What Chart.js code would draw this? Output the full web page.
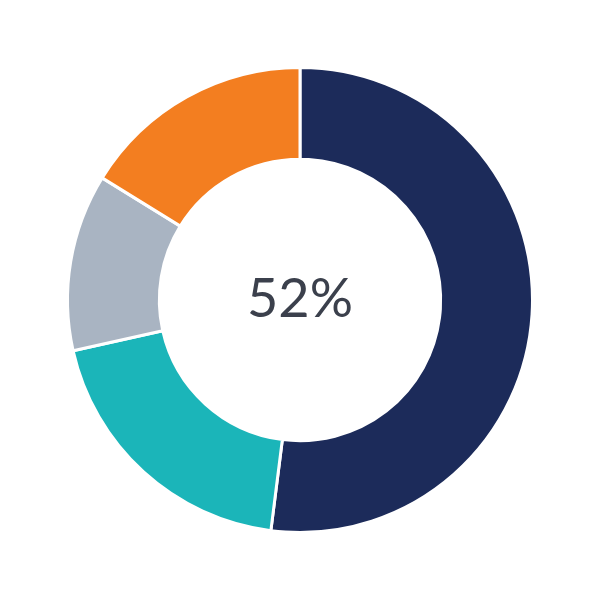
<!DOCTYPE html>
<html>
<head>
<meta charset="utf-8">
<script src="https://cdn.jsdelivr.net/npm/chart.js@4.4.0/dist/chart.umd.min.js"></script>
<style>
  html, body { margin: 0; padding: 0; background: #ffffff; }
  #wrap { width: 600px; height: 600px; position: relative; }
</style>
</head>
<body>
<div id="wrap"><canvas id="chart"></canvas></div>
<script>
  // values, clockwise from 12 o'clock
  const labels = ['Navy', 'Teal', 'Gray', 'Orange'];
  const values = [52, 19.5, 12.3, 16.2];
  const colors = ['#1c2b5a', '#1bb5b9', '#a9b4c2', '#f37e20'];
  const centerLabel = '52%';

  const centerText = {
    id: 'centerText',
    afterDraw(chart) {
      const arc = chart.getDatasetMeta(0).data[0];
      if (!arc) return;
      const ctx = chart.ctx;
      ctx.save();
      ctx.font = '400 54px Lato, sans-serif';
      ctx.fillStyle = '#3b404c';
      ctx.textAlign = 'center';
      ctx.textBaseline = 'middle';
      ctx.fillText(centerLabel, arc.x, arc.y);
      ctx.restore();
    }
  };

  new Chart(document.getElementById('chart'), {
    type: 'doughnut',
    data: {
      labels: labels,
      datasets: [{
        data: values,
        backgroundColor: colors,
        borderColor: '#ffffff',
        borderWidth: 3
      }]
    },
    options: {
      responsive: true,
      maintainAspectRatio: false,
      animation: false,
      cutout: '60.5%',
      layout: { padding: 66 },
      plugins: {
        legend: { display: false },
        tooltip: { enabled: false }
      }
    },
    plugins: [centerText]
  });
</script>
</body>
</html>
